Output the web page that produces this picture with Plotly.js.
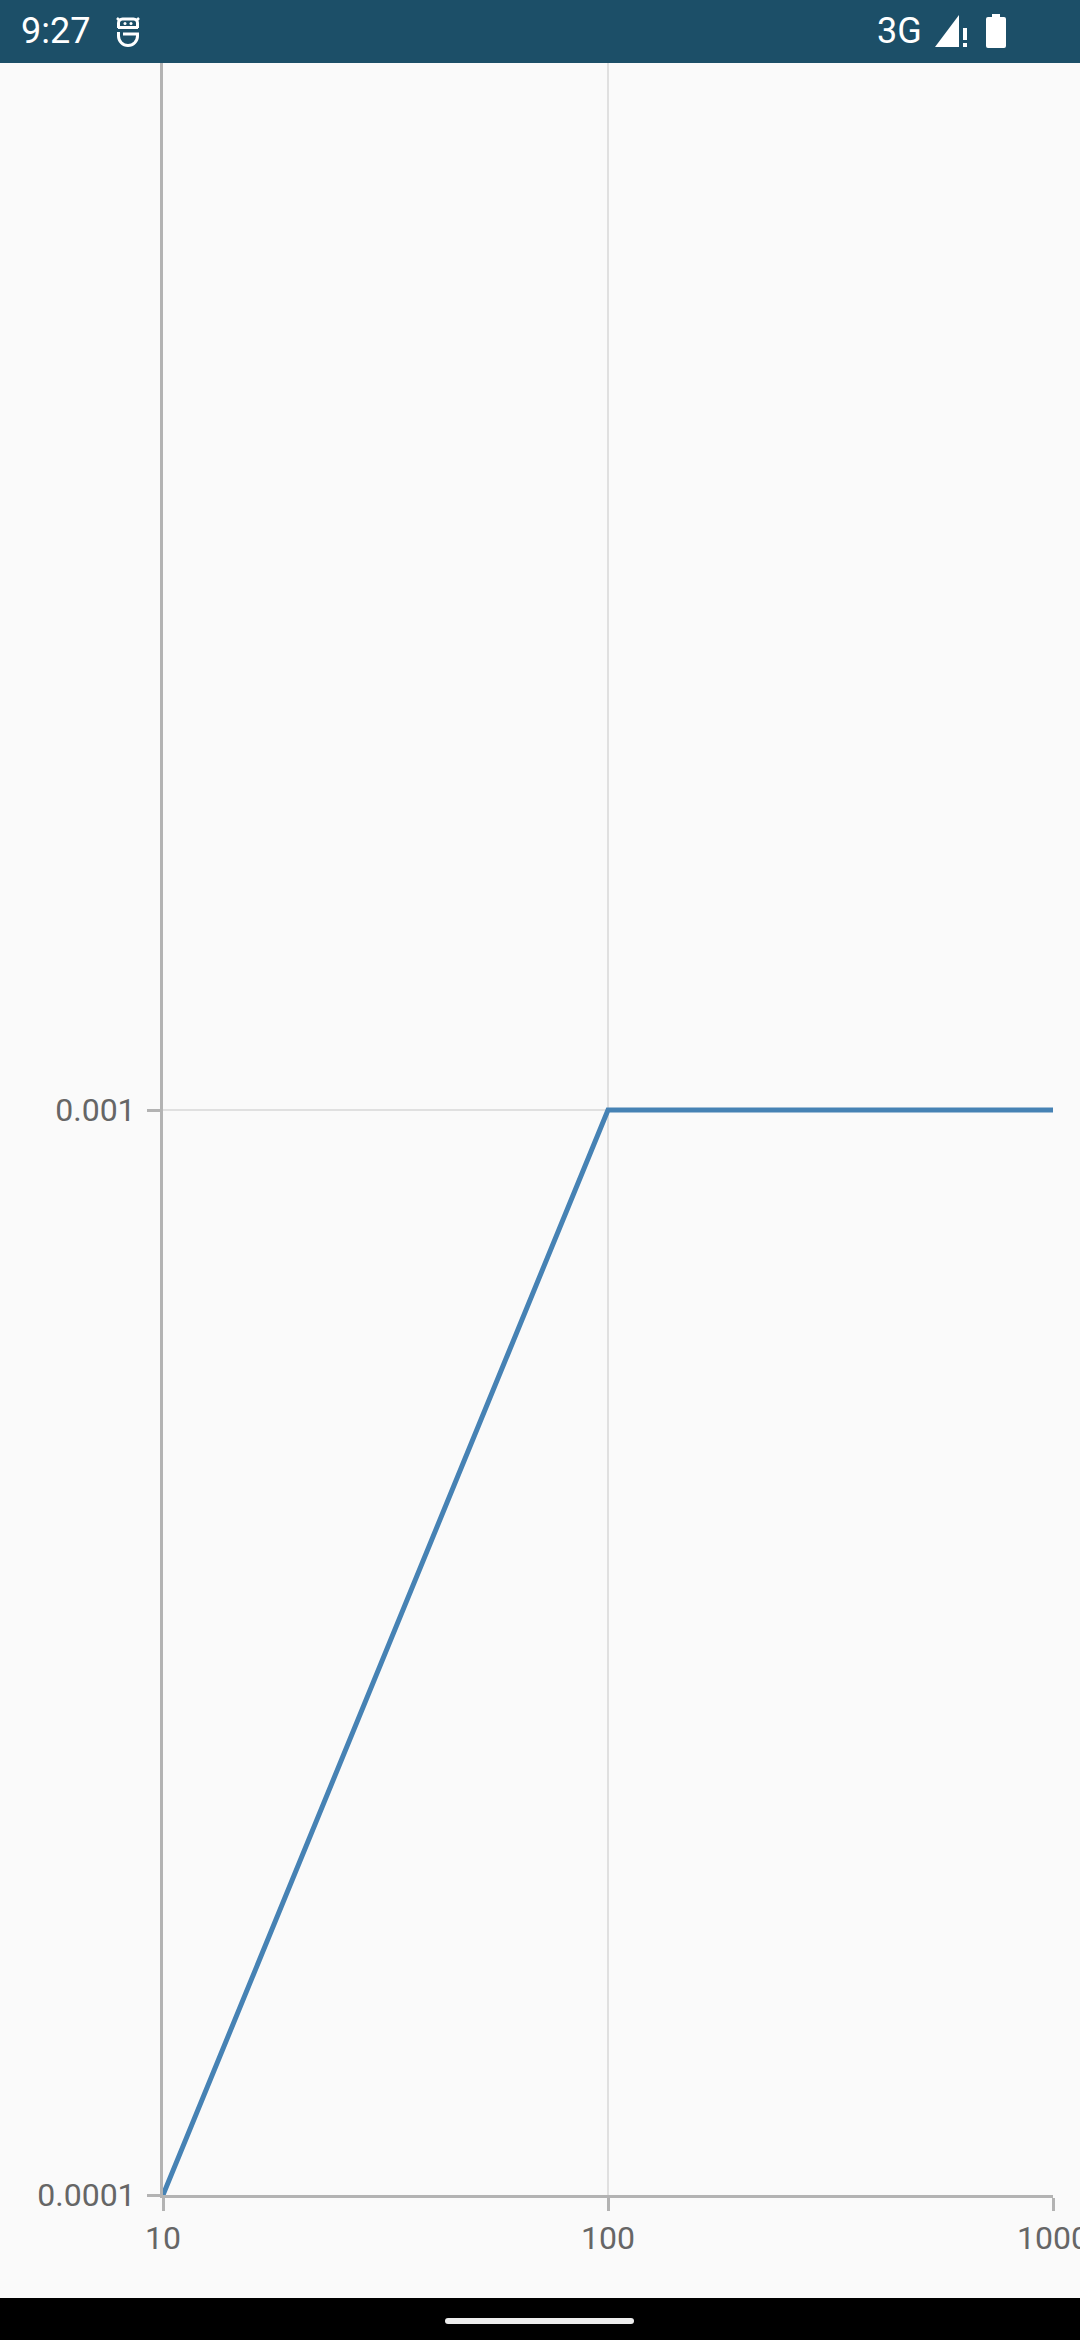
<!DOCTYPE html>
<html>
<head>
<meta charset="utf-8">
<script src="https://cdn.plot.ly/plotly-3.0.1.min.js"></script>
<style>
html,body{margin:0;padding:0;background:#fafafa;width:1080px;height:2340px;overflow:hidden;font-family:Roboto,sans-serif}
#chart{position:absolute;left:0;top:0;width:1080px;height:2340px}
#status{position:absolute;left:0;top:0;width:1080px;height:63px;background:#1c4f68;color:#fff;z-index:5}
#status .t{position:absolute;font-size:36px;line-height:63px;top:0}
#status svg{position:absolute}
#nav{position:absolute;left:0;top:2298px;width:1080px;height:42px;background:#000;z-index:5}
#pill{position:absolute;left:445px;top:20px;width:189px;height:6px;border-radius:3px;background:#ececec}
</style>
</head>
<body>
<div id="chart"></div>
<div id="status">
  <div class="t" style="left:21px">9:27</div>
  <svg style="left:116px;top:16px" width="24" height="32" viewBox="0 0 24 32" fill="none" stroke="#fff" stroke-width="3">
    <path d="M2.5 12V7a4 4 0 0 1 4-4h11a4 4 0 0 1 4 4v5"/>
    <path d="M1 2l3 3M23 2l-3 3" stroke-width="2.5"/>
    <path d="M2 11.5H22"/>
    <path d="M7 18H21.5V20a9.5 9.5 0 0 1-9.5 9.5h0a9.5 9.5 0 0 1-9.5-9.5V16"/>
    <circle cx="9" cy="7.5" r="1.5" fill="#fff" stroke="none"/><circle cx="15" cy="7.5" r="1.5" fill="#fff" stroke="none"/>
  </svg>
  <div class="t" style="left:877px">3G</div>
  <svg style="left:935px;top:14px" width="34" height="34" viewBox="0 0 34 34" fill="#fff">
    <path d="M0 33L24 1V33Z"/><rect x="28" y="14" width="4" height="12"/><rect x="28" y="29" width="4" height="4"/>
  </svg>
  <svg style="left:986px;top:14px" width="20" height="34" viewBox="0 0 20 34" fill="#fff">
    <path d="M6 0h8v3h4a2 2 0 0 1 2 2v27a2 2 0 0 1-2 2H2a2 2 0 0 1-2-2V5a2 2 0 0 1 2-2h4Z"/>
  </svg>
</div>
<div id="nav"><div id="pill"></div></div>
<script>
var xValues = [10, 100, 1000];
var yValues = [0.0001, 0.001, 0.001];
var xTicks = [10, 100, 1000];
var xTickLabels = ['10', '100', '1000'];
var yTicks = [0.0001, 0.001];
var yTickLabels = ['0.0001', '0.001'];
var xRange = [1, 3];
var yRange = [-4, -2];

var axisColor = '#b3b3b3', gridColor = '#e0e0e0', textColor = '#666666';
var tickFont = {family: 'Roboto, sans-serif', size: 32, color: textColor};

Plotly.newPlot('chart', [{
  type: 'scatter',
  mode: 'lines',
  x: xValues,
  y: yValues,
  line: {color: '#4682b4', width: 5},
  cliponaxis: false,
  hoverinfo: 'skip'
}], {
  width: 1080,
  height: 2340,
  margin: {l: 162.5, r: 27, t: 25, b: 145, pad: 0},
  paper_bgcolor: '#fafafa',
  plot_bgcolor: '#fafafa',
  showlegend: false,
  xaxis: {
    type: 'log', range: xRange, tickmode: 'array', tickvals: xTicks, ticktext: xTickLabels,
    showgrid: true, gridcolor: gridColor, gridwidth: 2.5,
    showline: true, linecolor: axisColor, linewidth: 3,
    ticks: 'outside', ticklen: 13, tickwidth: 3, tickcolor: axisColor,
    tickfont: tickFont, ticklabeloverflow: 'allow', zeroline: false, automargin: false
  },
  yaxis: {
    type: 'log', range: yRange, tickmode: 'array', tickvals: yTicks, ticktext: yTickLabels,
    showgrid: true, gridcolor: gridColor, gridwidth: 2.5,
    showline: true, linecolor: axisColor, linewidth: 3,
    ticks: 'outside', ticklen: 13, tickwidth: 3, tickcolor: axisColor,
    tickfont: tickFont, ticklabelstandoff: 5, zeroline: false, automargin: false
  }
}, {displayModeBar: false, staticPlot: true});
</script>
</body>
</html>
